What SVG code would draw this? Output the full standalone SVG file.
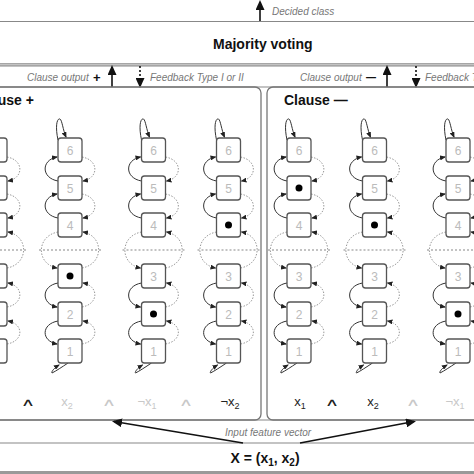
<svg xmlns="http://www.w3.org/2000/svg" xmlns:xlink="http://www.w3.org/1999/xlink" width="474" height="474" viewBox="0 0 474 474">
<style>
.box{fill:#fff;stroke:#555;stroke-width:1.3}
.num{font:12px "Liberation Sans",Arial,sans-serif;fill:#bbb;text-anchor:middle}
.sl{fill:none;stroke:#333;stroke-width:1}
.dl{fill:none;stroke:#999;stroke-width:1;stroke-dasharray:1.5 1.5}
.sep{stroke:#888;stroke-width:1.1;stroke-dasharray:2 2}
.rule{stroke:#888;stroke-width:1.2}
.panel{fill:none;stroke:#777;stroke-width:1.3}
.it{font:italic 10px "Liberation Sans",Arial,sans-serif;fill:#777}
.lbl{font:13px "Liberation Sans","DejaVu Sans",sans-serif;text-anchor:middle}
.and{font:18px "DejaVu Sans",sans-serif;text-anchor:middle}
.on{fill:#222}
.off{fill:#c8c8c8}
.title{font:bold 14px "Liberation Sans",Arial,sans-serif;fill:#111}
.arr{stroke:#111;stroke-width:1.6;fill:none}
</style>
<defs>
<marker id="ah" markerUnits="userSpaceOnUse" markerWidth="6" markerHeight="5" refX="5" refY="2.5" orient="auto"><path d="M0,0 L6,2.5 L0,5 z" fill="#222"/></marker>
<marker id="big" markerUnits="userSpaceOnUse" markerWidth="10" markerHeight="9" refX="8" refY="4.5" orient="auto"><path d="M0,0 L10,4.5 L0,9 z" fill="#111"/></marker>
<g id="arcs">
<path class="sl" marker-end="url(#ah)" d="M-12,140 C-15,126 -13,118 -10,119 C-8,120 -7,130 -4,137"/>
<path class="sl" marker-end="url(#ah)" d="M-12,181 C-29,178 -29,160 -13,157"/>
<path class="sl" marker-end="url(#ah)" d="M-12,218 C-29,215 -29,197 -13,194"/>
<path class="dl" marker-end="url(#ah)" d="M12,157 C29,160 29,178 13,181"/>
<path class="dl" marker-end="url(#ah)" d="M12,194 C29,197 29,215 13,218"/>
<path class="dl" marker-end="url(#ah)" d="M-12,232 C-34,236 -34,264 -13,268"/>
<path class="dl" marker-end="url(#ah)" d="M12,268 C34,264 34,236 13,232"/>
<path class="sl" marker-end="url(#ah)" d="M-12,283 C-29,286 -29,304 -13,307"/>
<path class="sl" marker-end="url(#ah)" d="M-12,321 C-29,324 -29,341 -13,344"/>
<path class="dl" marker-end="url(#ah)" d="M12,307 C29,304 29,286 13,283"/>
<path class="dl" marker-end="url(#ah)" d="M12,344 C29,341 29,324 13,321"/>
<path class="sl" marker-end="url(#ah)" d="M-2,363 C-8,367 -14,371 -18,373 C-19,372 -16,368 -11,365"/>
<line class="sep" x1="-31" y1="250" x2="31" y2="250"/>
</g>
</defs>
<rect width="474" height="474" fill="#fff"/>

<g id="frame">
<line class="rule" x1="0" y1="21.5" x2="474" y2="21.5"/>
<line class="rule" x1="0" y1="63.8" x2="474" y2="63.8"/>
<line class="rule" x1="0" y1="65.8" x2="474" y2="65.8"/>
<line class="rule" x1="0" y1="87" x2="474" y2="87"/>
<line class="rule" x1="0" y1="420" x2="474" y2="420"/>
<line class="rule" x1="0" y1="443" x2="474" y2="443"/>
<rect x="0" y="471" width="474" height="3" fill="#999"/>
</g>

<g id="majority">
<text class="title" x="213" y="48.5">Majority voting</text>
</g>
<g id="decided">
<line class="arr" x1="260" y1="21" x2="260" y2="2" marker-end="url(#big)"/>
<text class="it" x="272" y="15">Decided class</text>
</g>

<g id="header">
<text class="it" x="27" y="81">Clause output</text>
<text x="93" y="82" style="font:bold 13px 'Liberation Sans',Arial,sans-serif;fill:#111">+</text>
<line class="arr" x1="112" y1="87" x2="112" y2="67" marker-end="url(#big)"/>
<line class="arr" x1="140" y1="66" x2="140" y2="86" stroke-dasharray="2 2" marker-end="url(#big)"/>
<text class="it" x="150" y="81">Feedback Type I or II</text>
<text class="it" x="300" y="81">Clause output</text>
<text x="366" y="81" style="font:bold 10px 'Liberation Sans',Arial,sans-serif;fill:#111">—</text>
<line class="arr" x1="387" y1="87" x2="387" y2="67" marker-end="url(#big)"/>
<line class="arr" x1="416" y1="66" x2="416" y2="86" stroke-dasharray="2 2" marker-end="url(#big)"/>
<text class="it" x="425" y="81">Feedback Type I or II</text>
</g>

<g id="clause-plus">
<rect class="panel" x="-40" y="87" width="301" height="333" rx="6"/>
<text class="title" x="-24" y="105">Clause +</text>
</g>
<g id="clause-minus">
<rect class="panel" x="267" y="87" width="300" height="333" rx="6"/>
<text class="title" x="284" y="105">Clause —</text>
</g>

<g id="connectors">
<use xlink:href="#arcs" href="#arcs" x="-5"/>
<use xlink:href="#arcs" href="#arcs" x="70"/>
<use xlink:href="#arcs" href="#arcs" x="153.5"/>
<use xlink:href="#arcs" href="#arcs" x="228.5"/>
<use xlink:href="#arcs" href="#arcs" x="299"/>
<use xlink:href="#arcs" href="#arcs" x="374.5"/>
<use xlink:href="#arcs" href="#arcs" x="458"/>
<path class="arr" d="M243,443 L114,421.5" marker-end="url(#big)"/>
<path class="arr" d="M300,443 L414,421.5" marker-end="url(#big)"/>
</g>

<!-- Clause + column 1 (x1), mostly outside the picture -->
<g id="p1-6"><rect class="box" x="-17" y="138" width="24" height="24" rx="3"/></g>
<g id="p1-5"><rect class="box" x="-17" y="176" width="24" height="24" rx="3"/></g>
<g id="p1-4"><rect class="box" x="-17" y="213" width="24" height="24" rx="3"/></g>
<g id="p1-3"><rect class="box" x="-17" y="264" width="24" height="24" rx="3"/></g>
<g id="p1-2"><rect class="box" x="-17" y="302" width="24" height="24" rx="3"/></g>
<g id="p1-1"><rect class="box" x="-17" y="339" width="24" height="24" rx="3"/></g>

<!-- Clause + column 2 (x2) -->
<g id="p2-6"><rect class="box" x="58" y="138" width="24" height="24" rx="3"/><text class="num" x="70" y="154.5">6</text></g>
<g id="p2-5"><rect class="box" x="58" y="176" width="24" height="24" rx="3"/><text class="num" x="70" y="192.5">5</text></g>
<g id="p2-4"><rect class="box" x="58" y="213" width="24" height="24" rx="3"/><text class="num" x="70" y="229.5">4</text></g>
<g id="p2-3"><rect class="box" x="58" y="264" width="24" height="24" rx="3"/><circle cx="70" cy="276" r="3.5"/></g>
<g id="p2-2"><rect class="box" x="58" y="302" width="24" height="24" rx="3"/><text class="num" x="70" y="318.5">2</text></g>
<g id="p2-1"><rect class="box" x="58" y="339" width="24" height="24" rx="3"/><text class="num" x="70" y="355.5">1</text></g>

<!-- Clause + column 3 (not x1) -->
<g id="p3-6"><rect class="box" x="141.5" y="138" width="24" height="24" rx="3"/><text class="num" x="153.5" y="154.5">6</text></g>
<g id="p3-5"><rect class="box" x="141.5" y="176" width="24" height="24" rx="3"/><text class="num" x="153.5" y="192.5">5</text></g>
<g id="p3-4"><rect class="box" x="141.5" y="213" width="24" height="24" rx="3"/><text class="num" x="153.5" y="229.5">4</text></g>
<g id="p3-3"><rect class="box" x="141.5" y="264" width="24" height="24" rx="3"/><text class="num" x="153.5" y="280.5">3</text></g>
<g id="p3-2"><rect class="box" x="141.5" y="302" width="24" height="24" rx="3"/><circle cx="153.5" cy="314" r="3.5"/></g>
<g id="p3-1"><rect class="box" x="141.5" y="339" width="24" height="24" rx="3"/><text class="num" x="153.5" y="355.5">1</text></g>

<!-- Clause + column 4 (not x2) -->
<g id="p4-6"><rect class="box" x="216.5" y="138" width="24" height="24" rx="3"/><text class="num" x="228.5" y="154.5">6</text></g>
<g id="p4-5"><rect class="box" x="216.5" y="176" width="24" height="24" rx="3"/><text class="num" x="228.5" y="192.5">5</text></g>
<g id="p4-4"><rect class="box" x="216.5" y="213" width="24" height="24" rx="3"/><circle cx="228.5" cy="225" r="3.5"/></g>
<g id="p4-3"><rect class="box" x="216.5" y="264" width="24" height="24" rx="3"/><text class="num" x="228.5" y="280.5">3</text></g>
<g id="p4-2"><rect class="box" x="216.5" y="302" width="24" height="24" rx="3"/><text class="num" x="228.5" y="318.5">2</text></g>
<g id="p4-1"><rect class="box" x="216.5" y="339" width="24" height="24" rx="3"/><text class="num" x="228.5" y="355.5">1</text></g>

<!-- Clause - column 1 (x1) -->
<g id="m1-6"><rect class="box" x="287" y="138" width="24" height="24" rx="3"/><text class="num" x="299" y="154.5">6</text></g>
<g id="m1-5"><rect class="box" x="287" y="176" width="24" height="24" rx="3"/><circle cx="299" cy="188" r="3.5"/></g>
<g id="m1-4"><rect class="box" x="287" y="213" width="24" height="24" rx="3"/><text class="num" x="299" y="229.5">4</text></g>
<g id="m1-3"><rect class="box" x="287" y="264" width="24" height="24" rx="3"/><text class="num" x="299" y="280.5">3</text></g>
<g id="m1-2"><rect class="box" x="287" y="302" width="24" height="24" rx="3"/><text class="num" x="299" y="318.5">2</text></g>
<g id="m1-1"><rect class="box" x="287" y="339" width="24" height="24" rx="3"/><text class="num" x="299" y="355.5">1</text></g>

<!-- Clause - column 2 (x2) -->
<g id="m2-6"><rect class="box" x="362.5" y="138" width="24" height="24" rx="3"/><text class="num" x="374.5" y="154.5">6</text></g>
<g id="m2-5"><rect class="box" x="362.5" y="176" width="24" height="24" rx="3"/><text class="num" x="374.5" y="192.5">5</text></g>
<g id="m2-4"><rect class="box" x="362.5" y="213" width="24" height="24" rx="3"/><circle cx="374.5" cy="225" r="3.5"/></g>
<g id="m2-3"><rect class="box" x="362.5" y="264" width="24" height="24" rx="3"/><text class="num" x="374.5" y="280.5">3</text></g>
<g id="m2-2"><rect class="box" x="362.5" y="302" width="24" height="24" rx="3"/><text class="num" x="374.5" y="318.5">2</text></g>
<g id="m2-1"><rect class="box" x="362.5" y="339" width="24" height="24" rx="3"/><text class="num" x="374.5" y="355.5">1</text></g>

<!-- Clause - column 3 (not x1) -->
<g id="m3-6"><rect class="box" x="446" y="138" width="24" height="24" rx="3"/><text class="num" x="458" y="154.5">6</text></g>
<g id="m3-5"><rect class="box" x="446" y="176" width="24" height="24" rx="3"/><text class="num" x="458" y="192.5">5</text></g>
<g id="m3-4"><rect class="box" x="446" y="213" width="24" height="24" rx="3"/><text class="num" x="458" y="229.5">4</text></g>
<g id="m3-3"><rect class="box" x="446" y="264" width="24" height="24" rx="3"/><text class="num" x="458" y="280.5">3</text></g>
<g id="m3-2"><rect class="box" x="446" y="302" width="24" height="24" rx="3"/><circle cx="458" cy="314" r="3.5"/></g>
<g id="m3-1"><rect class="box" x="446" y="339" width="24" height="24" rx="3"/><text class="num" x="458" y="355.5">1</text></g>

<g id="literals">
<text class="and on" transform="translate(28,406) scale(1.1,0.6)">∧</text>
<text class="lbl off" x="67" y="406">x<tspan font-size="9" dy="3">2</tspan></text>
<text class="and off" transform="translate(109,406) scale(1.1,0.6)">∧</text>
<text class="lbl off" x="147" y="406">¬x<tspan font-size="9" dy="3">1</tspan></text>
<text class="and off" transform="translate(186,406) scale(1.1,0.6)">∧</text>
<text class="lbl on" x="230" y="406">¬x<tspan font-size="9" dy="3">2</tspan></text>
<text class="lbl on" x="300" y="406">x<tspan font-size="9" dy="3">1</tspan></text>
<text class="and on" transform="translate(332,406) scale(1.1,0.6)">∧</text>
<text class="lbl on" x="373" y="406">x<tspan font-size="9" dy="3">2</tspan></text>
<text class="and off" transform="translate(413,406) scale(1.1,0.6)">∧</text>
<text class="lbl off" x="455" y="406">¬x<tspan font-size="9" dy="3">1</tspan></text>
</g>

<g id="input">
<text class="it" x="225" y="435.5">Input feature vector</text>
<text class="title" x="265" y="463" text-anchor="middle">X = (x<tspan font-size="10" dy="3">1</tspan><tspan dy="-3">, x</tspan><tspan font-size="10" dy="3">2</tspan><tspan dy="-3">)</tspan></text>
</g>
</svg>
